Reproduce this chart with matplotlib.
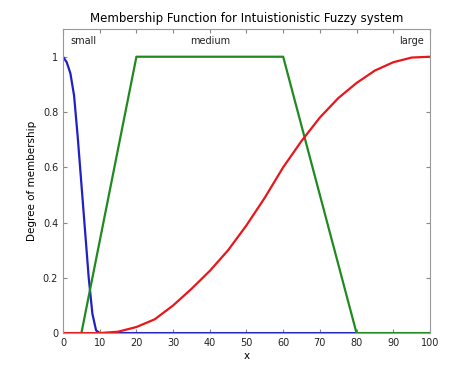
import matplotlib.pyplot as plt

# membership curves
x_small = [0, 1, 2, 3, 4, 5, 6, 7, 8, 9, 10, 100]
y_small = [1.0, 0.98, 0.94, 0.86, 0.71, 0.54, 0.37, 0.2, 0.07, 0.01, 0.0, 0.0]

x_medium = [0, 5, 20, 60, 80, 100]
y_medium = [0, 0, 1, 1, 0, 0]

x_large = [0, 5, 10, 15, 20, 25, 30, 35, 40, 45, 50, 55, 60, 65, 70, 75, 80, 85, 90, 95, 100]
y_large = [0, 0, 0, 0.005, 0.022, 0.05, 0.10, 0.16, 0.225, 0.30, 0.39, 0.49, 0.60,
           0.695, 0.78, 0.85, 0.905, 0.95, 0.98, 0.997, 1.0]

labels = ['small', 'medium', 'large']
label_x = [5.5, 40, 95]

fig = plt.figure(figsize=(4.74, 3.73), dpi=100)
ax = fig.add_axes([0.133, 0.107, 0.774, 0.815])

ax.plot(x_small, y_small, color='#2020c8', lw=1.6)
ax.plot(x_medium, y_medium, color='#208a20', lw=1.6)
ax.plot(x_large, y_large, color='#e8161b', lw=1.6)

for lab, lx in zip(labels, label_x):
    ax.text(lx, 1.04, lab, ha='center', va='bottom', fontsize=7, color='#222222')

ax.set_xlim(0, 100)
ax.set_ylim(0, 1.1)
ax.set_xticks(range(0, 101, 10))
ax.set_yticks([0, 0.2, 0.4, 0.6, 0.8, 1])
ax.set_yticklabels(['0', '0.2', '0.4', '0.6', '0.8', '1'])
ax.tick_params(direction='in', top=True, right=True, labelsize=7, length=3,
               color='#888888', labelcolor='#222222')
for s in ax.spines.values():
    s.set_color('#999999')

ax.set_xlabel('x', fontsize=7.5, labelpad=2)
ax.set_ylabel('Degree of membership', fontsize=7.5, labelpad=4)
ax.set_title('Membership Function for Intuistionistic Fuzzy system', fontsize=8.5, pad=5)

fig.savefig('out.png', dpi=100)
